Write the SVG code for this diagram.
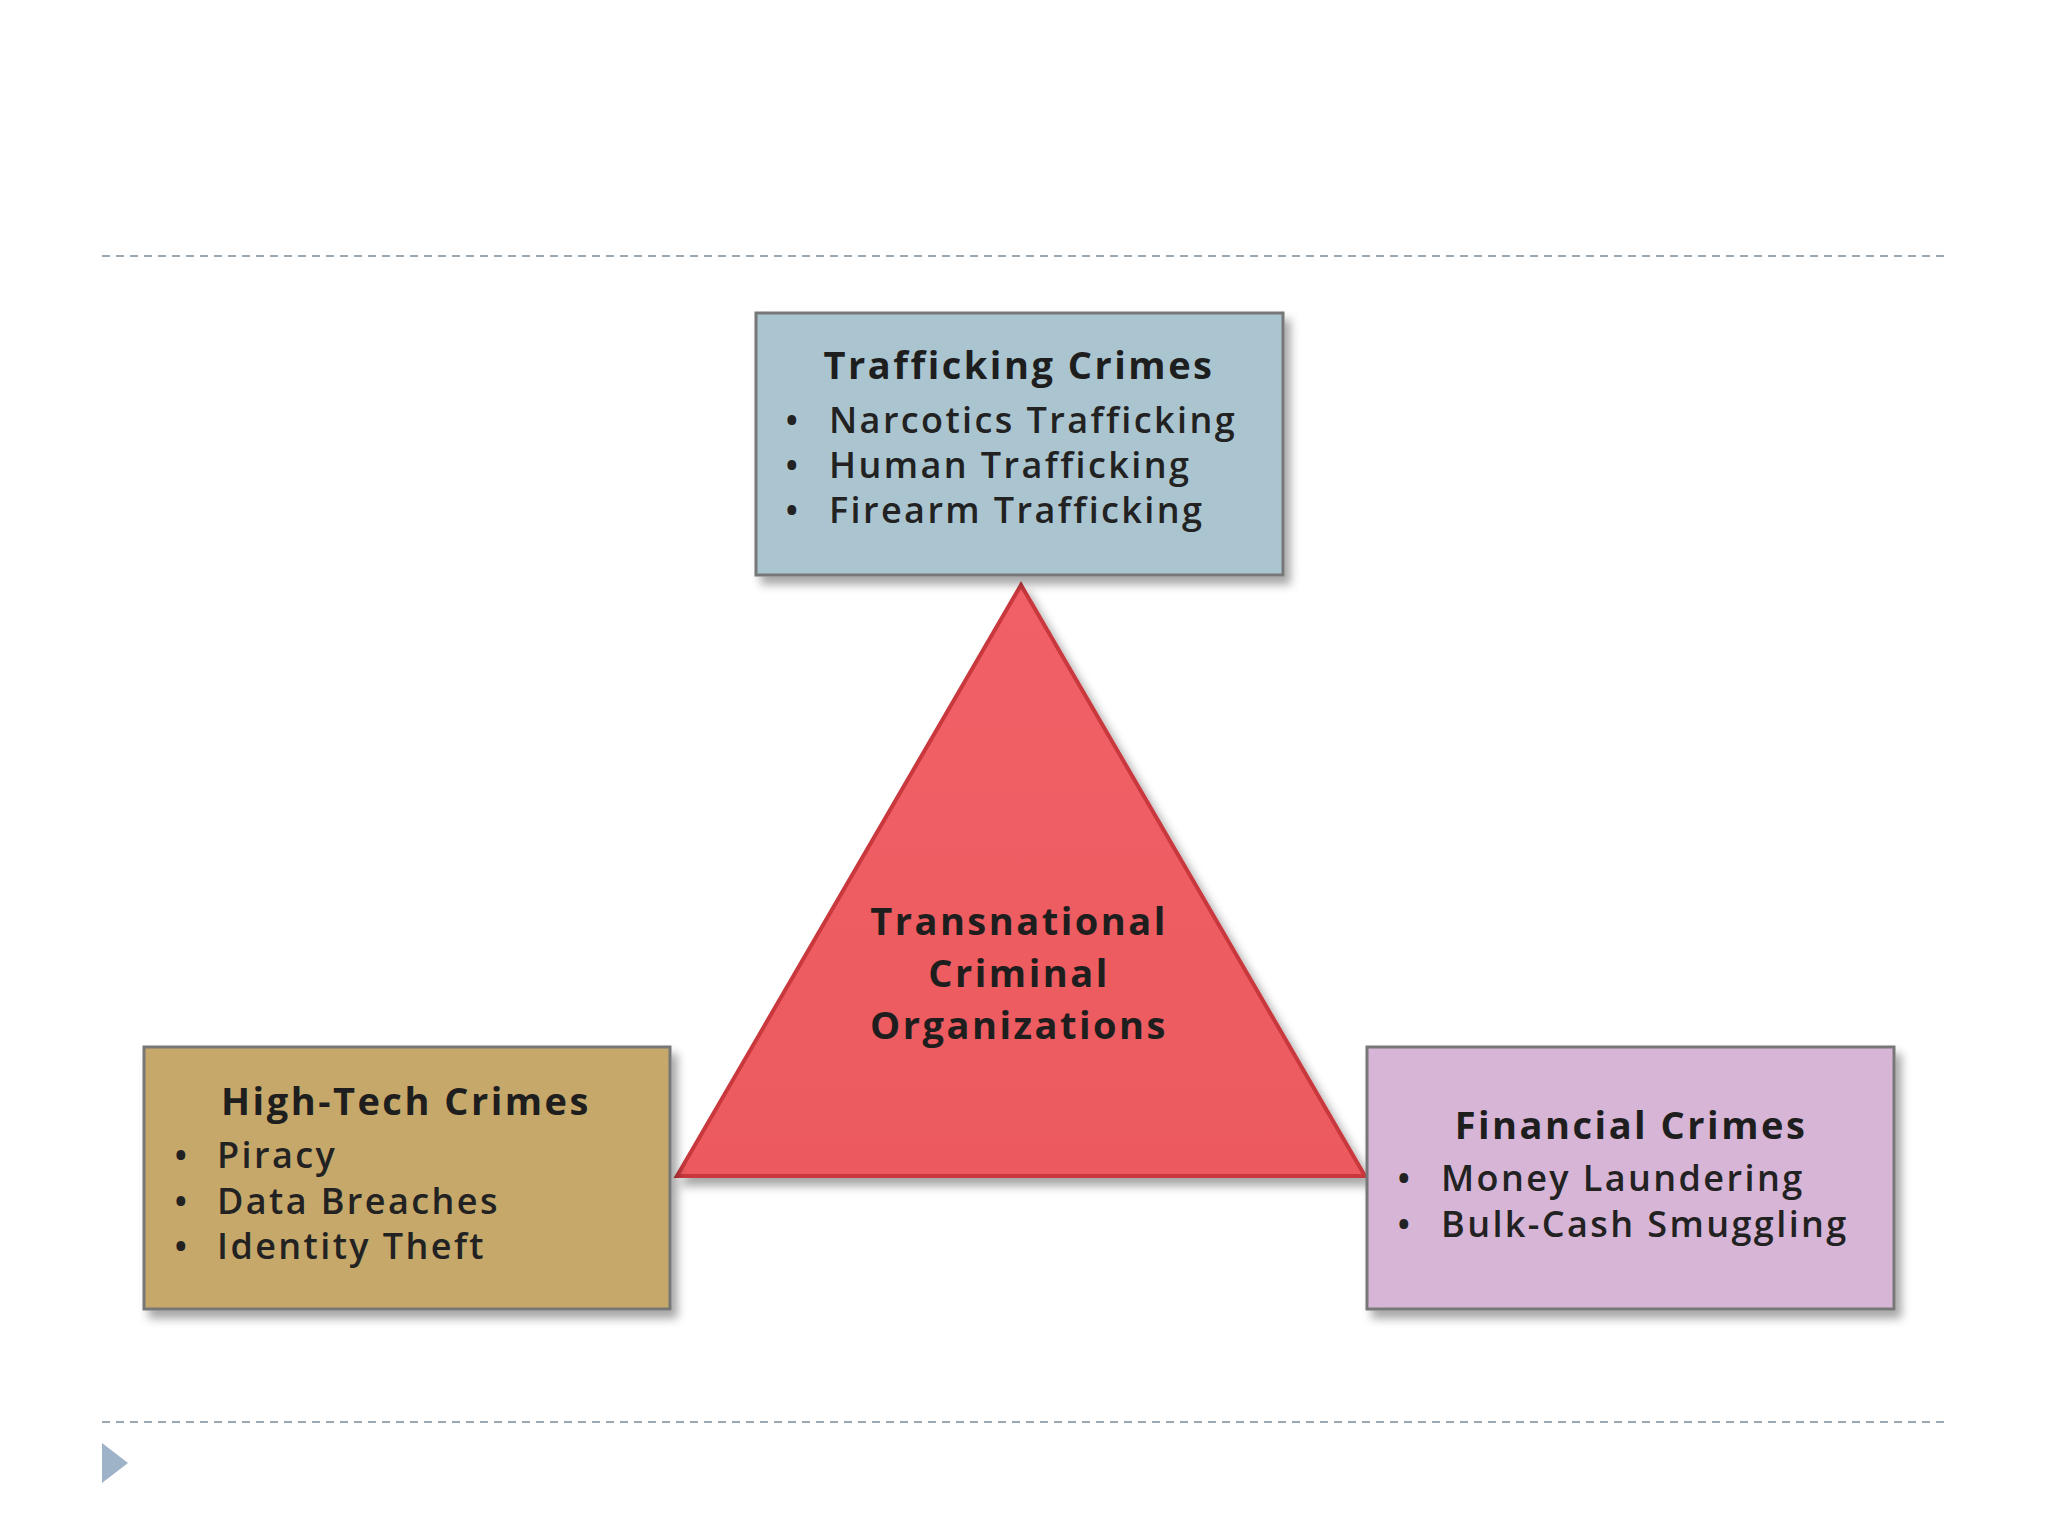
<svg xmlns="http://www.w3.org/2000/svg" width="2048" height="1536" viewBox="0 0 2048 1536">
<defs>
<filter id="sh" x="-10%" y="-10%" width="125%" height="130%"><feDropShadow dx="6" dy="8" stdDeviation="5" flood-color="#000" flood-opacity="0.35"/></filter>
<linearGradient id="tri" x1="0" y1="0" x2="0" y2="1"><stop offset="0" stop-color="#f06066"/><stop offset="1" stop-color="#ec5a5e"/></linearGradient>
</defs>
<style>
.t{font-family:"Open Sans","Liberation Sans",sans-serif;font-weight:700;fill:#1e1e1e;font-size:38px;letter-spacing:2.5px}
.b{font-family:"Open Sans","Liberation Sans",sans-serif;font-weight:600;fill:#222;font-size:36px;letter-spacing:2.4px}
.box{stroke:#777;stroke-width:3;filter:url(#sh)}
.dash{stroke:#9aa8b4;stroke-width:2;stroke-dasharray:8 6}
</style>
<rect width="2048" height="1536" fill="#fff"/>
<line class="dash" x1="102" y1="256" x2="1946" y2="256"/>
<line class="dash" x1="102" y1="1422" x2="1946" y2="1422"/>
<polygon points="102,1443 128,1463 102,1483" fill="#9fb3c8"/>
<g id="center">
<polygon points="1021,585 1365,1176 677,1176" fill="url(#tri)" stroke="#c8383e" stroke-width="4" filter="url(#sh)"/>
<text class="t" text-anchor="middle" x="1019" y="935">Transnational</text>
<text class="t" text-anchor="middle" x="1019" y="987">Criminal</text>
<text class="t" text-anchor="middle" x="1019" y="1039">Organizations</text>
</g>
<g id="trafficking">
<rect class="box" x="756" y="313" width="527" height="262" fill="#abc5d0"/>
<text class="t" text-anchor="middle" x="1019" y="379">Trafficking Crimes</text>
<text class="b" x="785" y="433">•</text><text class="b" x="829" y="433">Narcotics Trafficking</text>
<text class="b" x="785" y="478">•</text><text class="b" x="829" y="478">Human Trafficking</text>
<text class="b" x="785" y="523">•</text><text class="b" x="829" y="523">Firearm Trafficking</text>
</g>
<g id="hightech">
<rect class="box" x="144" y="1047" width="526" height="262" fill="#c6a86a"/>
<text class="t" text-anchor="middle" x="406" y="1115">High-Tech Crimes</text>
<text class="b" x="174" y="1168">•</text><text class="b" x="217" y="1168">Piracy</text>
<text class="b" x="174" y="1214">•</text><text class="b" x="217" y="1214">Data Breaches</text>
<text class="b" x="174" y="1259">•</text><text class="b" x="217" y="1259">Identity Theft</text>
</g>
<g id="financial">
<rect class="box" x="1367" y="1047" width="527" height="262" fill="#d7b5d6"/>
<text class="t" text-anchor="middle" x="1631" y="1139">Financial Crimes</text>
<text class="b" x="1397" y="1191">•</text><text class="b" x="1441" y="1191">Money Laundering</text>
<text class="b" x="1397" y="1237">•</text><text class="b" x="1441" y="1237">Bulk-Cash Smuggling</text>
</g>
<g id="connectors"></g>
</svg>
